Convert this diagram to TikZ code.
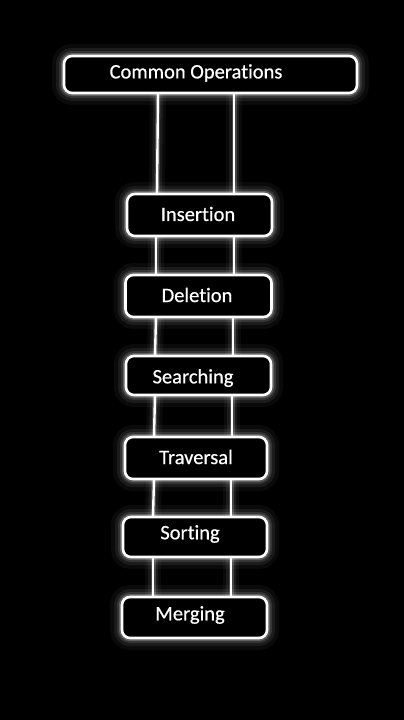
\documentclass[tikz,border=0pt]{standalone}
\usepackage{fontspec}
\setmainfont{Carlito}[Ligatures=NoCommon, FakeBold=0.6]
\begin{document}
\begin{tikzpicture}[x=1pt,y=-1pt,
  glowbox/.style={draw=white, line width=2.6pt, rounded corners=8pt, fill=black, inner sep=0pt,
    preaction={draw=white, line width=24pt, opacity=0.04},
    preaction={draw=white, line width=16pt, opacity=0.07},
    preaction={draw=white, line width=10pt, opacity=0.11},
    preaction={draw=white, line width=6pt, opacity=0.22}},
  glowline/.style={draw=white, line width=2.4pt,
    preaction={draw=white, line width=16pt, opacity=0.04},
    preaction={draw=white, line width=10pt, opacity=0.07},
    preaction={draw=white, line width=5pt, opacity=0.18}},
  lbl/.style={text=white, font=\fontsize{20.5}{24}\selectfont, inner sep=0pt}
]
\fill[black] (0,0) rectangle (404,720);
\useasboundingbox (0,0) rectangle (404,720);
% lines first (behind boxes)
\coordinate (l0) at (158,93);  \coordinate (r0) at (234,93);
\coordinate (l1) at (157,194); \coordinate (r1) at (234,194);
\coordinate (l1b) at (156,236); \coordinate (r1b) at (234,236);
\coordinate (l2) at (156,275); \coordinate (r2) at (234,275);
\coordinate (l2b) at (156,317); \coordinate (r2b) at (233,317);
\coordinate (l3) at (155,356); \coordinate (r3) at (233,356);
\coordinate (l3b) at (155,395); \coordinate (r3b) at (232,395);
\coordinate (l4) at (154,437); \coordinate (r4) at (232,437);
\coordinate (l4b) at (154,479); \coordinate (r4b) at (231,479);
\coordinate (l5) at (153,517); \coordinate (r5) at (231,517);
\coordinate (l5b) at (153,557); \coordinate (r5b) at (231,557);
\coordinate (l6) at (153,597); \coordinate (r6) at (231,597);
\foreach \a/\b in {l0/l1,r0/r1,l1b/l2,r1b/r2,l2b/l3,r2b/r3,l3b/l4,r3b/r4,l4b/l5,r4b/r5,l5b/l6,r5b/r6}
  \draw[glowline] (\a) -- (\b);
% boxes
\node[glowbox, minimum width=293pt, minimum height=37pt] (top) at (210.5,74.5) {};
\node[glowbox, minimum width=145pt, minimum height=42pt] (ins) at (199.5,215) {};
\node[glowbox, minimum width=146pt, minimum height=42pt] (del) at (198.5,296) {};
\node[glowbox, minimum width=145pt, minimum height=39pt] (sea) at (198.5,375.5) {};
\node[glowbox, minimum width=142pt, minimum height=42pt] (tra) at (196,458) {};
\node[glowbox, minimum width=144pt, minimum height=40pt] (sor) at (195,537) {};
\node[glowbox, minimum width=145pt, minimum height=41pt] (mer) at (194.5,617.5) {};
% labels
\node[lbl] (ttop) at (196,73) {Common Operations};
\node[lbl] (tins) at (198,214) {Insertion};
\node[lbl] (tdel) at (197,295) {Deletion};
\node[lbl] (tsea) at (193,378) {Searching};
\node[lbl] (ttra) at (196,457) {Traversal};
\node[lbl] (tsor) at (190,534) {Sorting};
\node[lbl] (tmer) at (190,615) {Merging};
\end{tikzpicture}
\end{document}
